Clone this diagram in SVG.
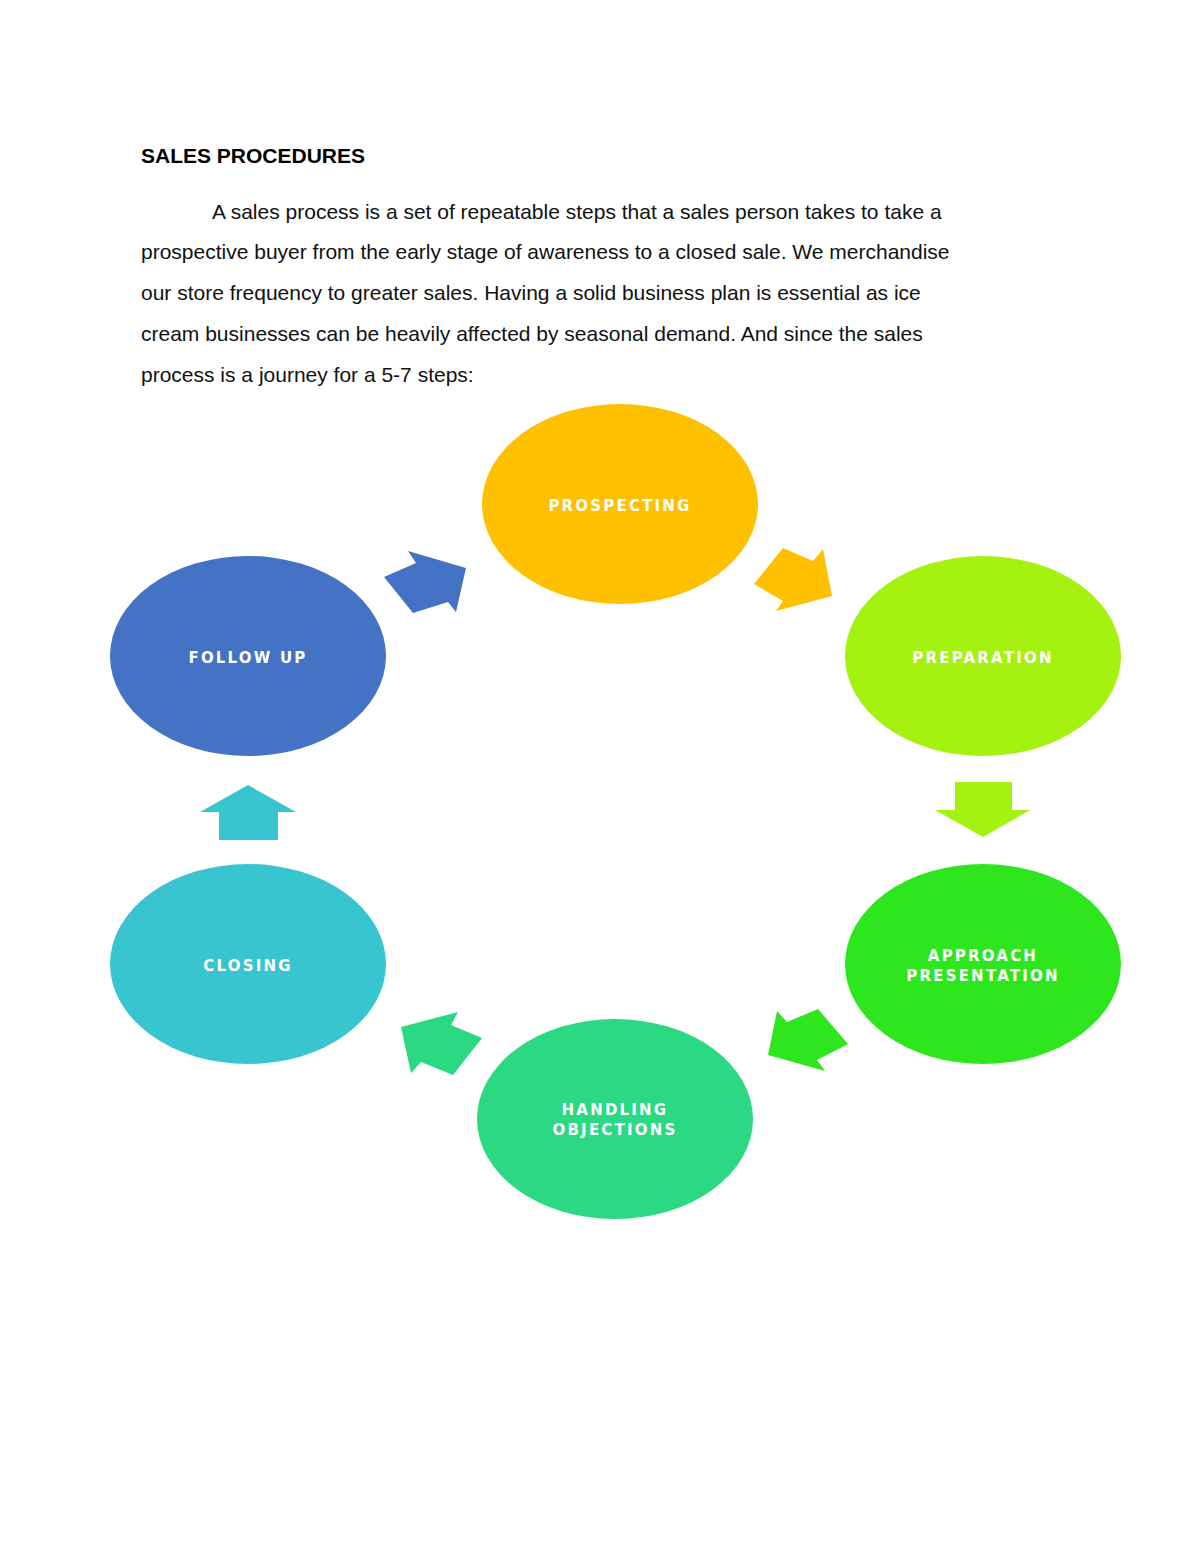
<svg xmlns="http://www.w3.org/2000/svg" width="1200" height="1553" viewBox="0 0 1200 1553">
<style>
.b{font-family:"Liberation Sans",Arial,sans-serif;font-size:21px;fill:#111}
.h{font-family:"Liberation Sans",Arial,sans-serif;font-size:21px;font-weight:bold;fill:#000}
.l{font-family:"DejaVu Sans",sans-serif;font-size:15px;font-weight:bold;fill:#fff;letter-spacing:2.2px;text-anchor:middle}
</style>
<rect width="1200" height="1553" fill="#fff"/>
<text class="h" x="141" y="163">SALES PROCEDURES</text>
<text class="b" x="212" y="219">A sales process is a set of repeatable steps that a sales person takes to take a</text>
<text class="b" x="141" y="259">prospective buyer from the early stage of awareness to a closed sale. We merchandise</text>
<text class="b" x="141" y="300">our store frequency to greater sales. Having a solid business plan is essential as ice</text>
<text class="b" x="141" y="341">cream businesses can be heavily affected by seasonal demand. And since the sales</text>
<text class="b" x="141" y="382">process is a journey for a 5-7 steps:</text>
<g id="prospecting"><ellipse cx="620" cy="504" rx="138" ry="100" fill="#ffc000"/><text class="l" x="620" y="511">PROSPECTING</text></g>
<g id="preparation"><ellipse cx="983" cy="656" rx="138" ry="100" fill="#a5f10f"/><text class="l" x="983" y="663">PREPARATION</text></g>
<g id="approach"><ellipse cx="983" cy="964" rx="138" ry="100" fill="#2ee61e"/><text class="l" x="983" y="961">APPROACH</text><text class="l" x="983" y="981">PRESENTATION</text></g>
<g id="handling"><ellipse cx="615" cy="1119" rx="138" ry="100" fill="#2ad982"/><text class="l" x="615" y="1115">HANDLING</text><text class="l" x="615" y="1135">OBJECTIONS</text></g>
<g id="closing"><ellipse cx="248" cy="964" rx="138" ry="100" fill="#38c5cf"/><text class="l" x="248" y="971">CLOSING</text></g>
<g id="followup"><ellipse cx="248" cy="656" rx="138" ry="100" fill="#4472c4"/><text class="l" x="248" y="663">FOLLOW UP</text></g>
<g id="connectors">
<polygon points="384,577 416,563 408,551 466,568 456,612 448,602 413,613" fill="#4472c4"/>
<polygon points="754,584 783,548 813,561 823,549 832,596 776,611 783,601" fill="#ffc000"/>
<polygon points="955,782 1012,782 1012,810 1030,810 983,837 935,810 955,810" fill="#a5f10f"/>
<polygon points="818,1009 848,1044 817,1060 825,1071 768,1055 777,1011 787,1022" fill="#2ee61e"/>
<polygon points="482,1038 453,1075 421,1062 411,1073 401,1027 458,1012 451,1025" fill="#2ad982"/>
<polygon points="219,840 278,840 278,812 296,812 248,785 200,812 219,812" fill="#38c5cf"/>
</g>
</svg>
